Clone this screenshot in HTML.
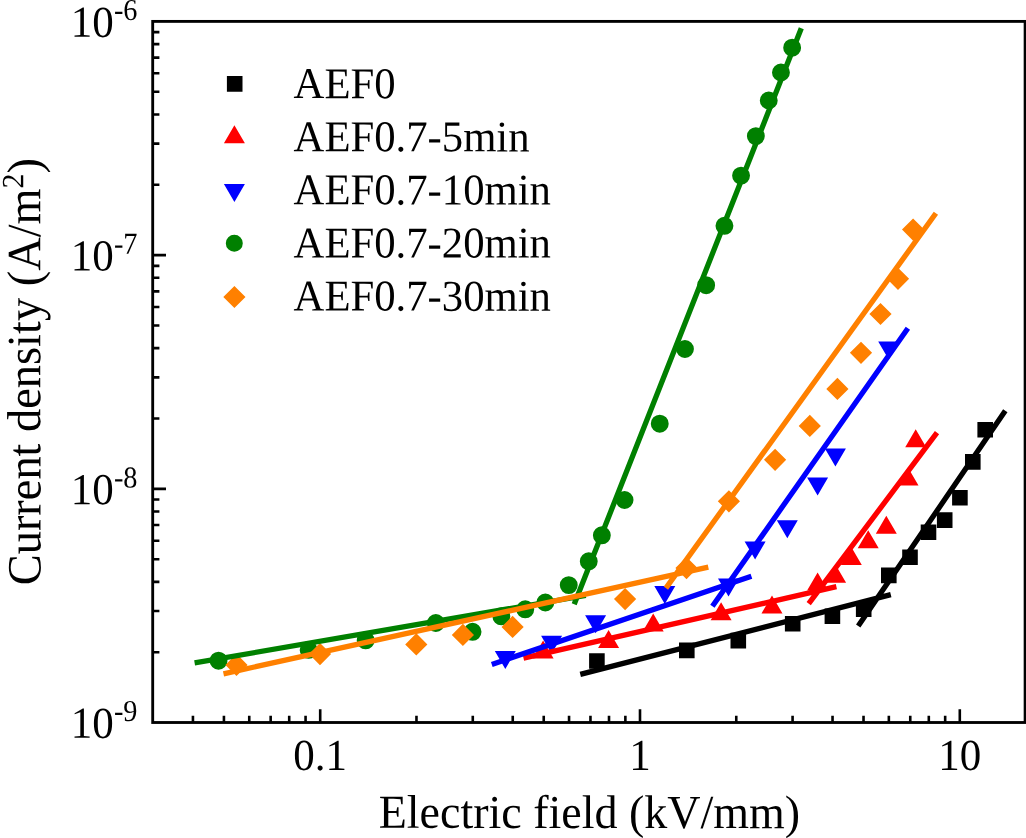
<!DOCTYPE html>
<html lang="en"><head><meta charset="utf-8"><title>Current density vs electric field</title>
<style>html,body{margin:0;padding:0;background:#fff}svg{display:block}</style></head>
<body>
<svg width="1026" height="838" viewBox="0 0 1026 838" font-family="'Liberation Serif', 'Times New Roman', serif" font-size="43" fill="#000">
<rect width="1026" height="838" fill="#fff"/>
<path d="M192.94 722.5V715.80M223.93 722.5V715.80M249.25 722.5V715.80M270.66 722.5V715.80M289.21 722.5V715.80M305.57 722.5V715.80M320.20 722.5V709.20M416.47 722.5V715.80M472.78 722.5V715.80M512.74 722.5V715.80M543.73 722.5V715.80M569.05 722.5V715.80M590.46 722.5V715.80M609.01 722.5V715.80M625.37 722.5V715.80M640.00 722.5V709.20M736.27 722.5V715.80M792.58 722.5V715.80M832.54 722.5V715.80M863.53 722.5V715.80M888.85 722.5V715.80M910.26 722.5V715.80M928.81 722.5V715.80M945.17 722.5V715.80M959.80 722.5V709.20M152.7 652.20H159.40M152.7 611.05H159.40M152.7 581.85H159.40M152.7 559.20H159.40M152.7 540.70H159.40M152.7 525.05H159.40M152.7 511.50H159.40M152.7 499.54H159.40M152.7 488.85H166.00M152.7 418.50H159.40M152.7 377.35H159.40M152.7 348.15H159.40M152.7 325.50H159.40M152.7 307.00H159.40M152.7 291.35H159.40M152.7 277.80H159.40M152.7 265.84H159.40M152.7 255.15H166.00M152.7 184.80H159.40M152.7 143.65H159.40M152.7 114.45H159.40M152.7 91.80H159.40M152.7 73.30H159.40M152.7 57.65H159.40M152.7 44.10H159.40M152.7 32.14H159.40" stroke="#000" stroke-width="2.6" fill="none"/>
<rect x="152.7" y="21.4" width="872.3999999999999" height="701.1" fill="none" stroke="#000" stroke-width="2.85"/>
<path d="M589.1 653.2h15.6v15.6h-15.6zM679.0 642.6h15.6v15.6h-15.6zM730.5 632.8h15.6v15.6h-15.6zM784.9 615.9h15.6v15.6h-15.6zM824.6 608.4h15.6v15.6h-15.6zM855.9 601.3h15.6v15.6h-15.6zM881.0 567.6h15.6v15.6h-15.6zM902.2 549.5h15.6v15.6h-15.6zM920.7 524.4h15.6v15.6h-15.6zM936.9 512.3h15.6v15.6h-15.6zM952.1 490.0h15.6v15.6h-15.6zM965.0 454.1h15.6v15.6h-15.6zM977.4 422.0h15.6v15.6h-15.6zM226.9 76.1h15.6v15.6h-15.6z" fill="#000000"/>
<path d="M532.6 658.6h21L543.1 640.6zM598.1 648.1h21L608.6 630.1zM642.7 631.4h21L653.2 613.4zM710.6 620.3h21L721.1 602.3zM761.5 613.4h21L772.0 595.4zM807.1 590.6h21L817.6 572.6zM825.1 582.8h21L835.6 564.8zM840.8 565.0h21L851.3 547.0zM857.7 548.3h21L868.2 530.3zM875.8 533.8h21L886.3 515.8zM897.5 485.6h21L908.0 467.6zM905.2 447.3h21L915.7 429.3zM223.9 143.2h21L234.4 125.2z" fill="#ff0000"/>
<path d="M494.8 651.0h21L505.3 669.0zM541.1 635.7h21L551.6 653.7zM585.1 615.3h21L595.6 633.3zM654.3 586.1h21L664.8 604.1zM718.0 578.4h21L728.5 596.4zM744.6 541.5h21L755.1 559.5zM776.8 520.3h21L787.3 538.3zM807.1 477.5h21L817.6 495.5zM824.9 448.5h21L835.4 466.5zM878.2 341.5h21L888.7 359.5zM223.9 184.1h21L234.4 202.1z" fill="#0000ff"/>
<path d="M209.6 660.7a8.95 8.95 0 1 0 17.9 0a8.95 8.95 0 1 0 -17.9 0zM299.7 649.9a8.95 8.95 0 1 0 17.9 0a8.95 8.95 0 1 0 -17.9 0zM356.7 640.3a8.95 8.95 0 1 0 17.9 0a8.95 8.95 0 1 0 -17.9 0zM426.9 623.0a8.95 8.95 0 1 0 17.9 0a8.95 8.95 0 1 0 -17.9 0zM463.6 631.8a8.95 8.95 0 1 0 17.9 0a8.95 8.95 0 1 0 -17.9 0zM492.4 616.3a8.95 8.95 0 1 0 17.9 0a8.95 8.95 0 1 0 -17.9 0zM516.3 609.3a8.95 8.95 0 1 0 17.9 0a8.95 8.95 0 1 0 -17.9 0zM536.4 602.5a8.95 8.95 0 1 0 17.9 0a8.95 8.95 0 1 0 -17.9 0zM559.8 585.1a8.95 8.95 0 1 0 17.9 0a8.95 8.95 0 1 0 -17.9 0zM579.8 561.3a8.95 8.95 0 1 0 17.9 0a8.95 8.95 0 1 0 -17.9 0zM592.9 535.3a8.95 8.95 0 1 0 17.9 0a8.95 8.95 0 1 0 -17.9 0zM615.6 500.0a8.95 8.95 0 1 0 17.9 0a8.95 8.95 0 1 0 -17.9 0zM650.8 423.7a8.95 8.95 0 1 0 17.9 0a8.95 8.95 0 1 0 -17.9 0zM676.0 349.0a8.95 8.95 0 1 0 17.9 0a8.95 8.95 0 1 0 -17.9 0zM697.2 285.2a8.95 8.95 0 1 0 17.9 0a8.95 8.95 0 1 0 -17.9 0zM715.5 225.8a8.95 8.95 0 1 0 17.9 0a8.95 8.95 0 1 0 -17.9 0zM732.1 175.6a8.95 8.95 0 1 0 17.9 0a8.95 8.95 0 1 0 -17.9 0zM746.9 136.1a8.95 8.95 0 1 0 17.9 0a8.95 8.95 0 1 0 -17.9 0zM759.8 100.5a8.95 8.95 0 1 0 17.9 0a8.95 8.95 0 1 0 -17.9 0zM772.0 72.5a8.95 8.95 0 1 0 17.9 0a8.95 8.95 0 1 0 -17.9 0zM783.2 47.7a8.95 8.95 0 1 0 17.9 0a8.95 8.95 0 1 0 -17.9 0zM225.8 243.3a8.5 8.5 0 1 0 17.0 0a8.5 8.5 0 1 0 -17.0 0z" fill="#008000"/>
<path d="M225.4 664.9L236.5 653.8L247.6 664.9L236.5 676.0zM308.9 654.1L320.0 643.0L331.1 654.1L320.0 665.2zM405.2 644.4L416.3 633.3L427.4 644.4L416.3 655.5zM451.8 634.9L462.9 623.8L474.0 634.9L462.9 646.0zM501.5 626.9L512.6 615.8L523.7 626.9L512.6 638.0zM614.0 599.1L625.1 588.0L636.2 599.1L625.1 610.2zM675.4 568.1L686.5 557.0L697.6 568.1L686.5 579.2zM717.8 501.3L728.9 490.2L740.0 501.3L728.9 512.4zM764.0 459.8L775.1 448.7L786.2 459.8L775.1 470.9zM798.7 425.9L809.8 414.8L820.9 425.9L809.8 437.0zM826.3 388.9L837.4 377.8L848.5 388.9L837.4 400.0zM849.9 352.8L861.0 341.7L872.1 352.8L861.0 363.9zM869.4 314.0L880.5 302.9L891.6 314.0L880.5 325.1zM886.9 278.8L898.0 267.7L909.1 278.8L898.0 289.9zM902.0 229.6L913.1 218.5L924.2 229.6L913.1 240.7zM223.3 297.0L234.4 285.9L245.5 297.0L234.4 308.1z" fill="#ff8000"/>
<path d="M580.3 674.4L890.8 594.6M858.2 626.1L1005.3 410.8" stroke="#000000" stroke-width="5.3" fill="none"/>
<path d="M523.5 658.2L836.4 586.7M808.7 603.7L937 432.7" stroke="#ff0000" stroke-width="5.3" fill="none"/>
<path d="M491.8 664.4L751.4 576.2M712.4 606.3L907.9 328.3" stroke="#0000ff" stroke-width="5.3" fill="none"/>
<path d="M194.6 662.9L585.8 595.5M574.2 604.3L801.3 28.3" stroke="#008000" stroke-width="5.3" fill="none"/>
<path d="M223.5 673.8L708.3 567.1M665.9 588.1L935.9 213.2" stroke="#ff8000" stroke-width="5.3" fill="none"/>
<text transform="translate(293.6 98.1) rotate(0.05) scale(1 1.03)" font-size="42.7" text-anchor="start">AEF0</text>
<text transform="translate(293.6 151.2) rotate(0.05) scale(1 1.03)" font-size="42.7" text-anchor="start">AEF0.7-5min</text>
<text transform="translate(293.6 204.3) rotate(0.05) scale(1 1.03)" font-size="42.7" text-anchor="start">AEF0.7-10min</text>
<text transform="translate(293.6 257.4) rotate(0.05) scale(1 1.03)" font-size="42.7" text-anchor="start">AEF0.7-20min</text>
<text transform="translate(293.6 310.5) rotate(0.05) scale(1 1.03)" font-size="42.7" text-anchor="start">AEF0.7-30min</text>
<text transform="translate(320.2 770.1) rotate(0.05) scale(1 1.035)" font-size="43" text-anchor="middle">0.1</text>
<text transform="translate(640.0 770.1) rotate(0.05) scale(1 1.035)" font-size="43" text-anchor="middle">1</text>
<text transform="translate(959.8 770.1) rotate(0.05) scale(1 1.035)" font-size="43" text-anchor="middle">10</text>
<text transform="translate(113.8 36.9) rotate(0.05) scale(1 1.035)" font-size="43" text-anchor="end">10</text>
<text transform="translate(137.5 20.1) rotate(0.05) scale(1 1.075)" font-size="28.3" text-anchor="end">-6</text>
<text transform="translate(113.8 270.5) rotate(0.05) scale(1 1.035)" font-size="43" text-anchor="end">10</text>
<text transform="translate(137.5 253.7) rotate(0.05) scale(1 1.075)" font-size="28.3" text-anchor="end">-7</text>
<text transform="translate(113.8 504.2) rotate(0.05) scale(1 1.035)" font-size="43" text-anchor="end">10</text>
<text transform="translate(137.5 487.4) rotate(0.05) scale(1 1.075)" font-size="28.3" text-anchor="end">-8</text>
<text transform="translate(113.8 737.9) rotate(0.05) scale(1 1.035)" font-size="43" text-anchor="end">10</text>
<text transform="translate(137.5 721.1) rotate(0.05) scale(1 1.075)" font-size="28.3" text-anchor="end">-9</text>
<text transform="translate(589.4 828.0) rotate(0.05) scale(1 1.03)" font-size="46" text-anchor="middle">Electric field (kV/mm)</text>
<text transform="translate(40.3 371.6) rotate(-90.05) scale(1 1.03)" font-size="46.4" text-anchor="middle">Current density (A/m<tspan font-size="30" dy="-16.5">2</tspan><tspan dy="16.5">)</tspan></text>
</svg>
</body></html>
